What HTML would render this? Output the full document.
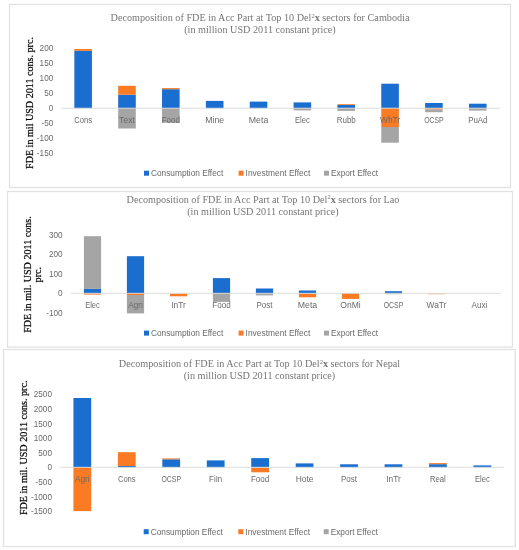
<!DOCTYPE html>
<html><head><meta charset="utf-8"><style>
html,body{margin:0;padding:0;background:#fff;width:519px;height:550px;overflow:hidden}
svg{display:block;will-change:transform}
.tt{font-family:"Liberation Serif",serif;font-size:10.2px;fill:#767676}
.yt{font-family:"Liberation Serif",serif;font-size:10.1px;fill:#000;stroke:#000;stroke-width:0.22px}
.al{font-family:"Liberation Sans",sans-serif;font-size:8.8px;fill:#6a6a6a}
.lg{font-family:"Liberation Sans",sans-serif;font-size:8.8px;fill:#6a6a6a}
</style></head><body>
<svg width="519" height="550" viewBox="0 0 519 550"><rect x="0" y="0" width="519" height="550" fill="#fff"/><rect x="9.5" y="4.5" width="501" height="183" fill="#fff" stroke="#e2e2e2" stroke-width="1.3"/><text x="260" y="21.2" text-anchor="middle" class="tt">Decomposition of FDE in Acc Part at Top 10 Del<tspan font-size="6.5" dy="-3.5">2</tspan><tspan font-weight="bold" dy="3.5">x</tspan> sectors for Cambodia</text><text x="260" y="33.2" text-anchor="middle" class="tt">(in million USD 2011 constant price)</text><text transform="translate(32.7,103) rotate(-90)" text-anchor="middle" class="yt">FDE in mil USD 2011 cons. prc.</text><text x="53.3" y="51.20" text-anchor="end" class="al" textLength="13.68" lengthAdjust="spacingAndGlyphs">200</text><text x="53.3" y="66.20" text-anchor="end" class="al" textLength="13.68" lengthAdjust="spacingAndGlyphs">150</text><text x="53.3" y="81.20" text-anchor="end" class="al" textLength="13.68" lengthAdjust="spacingAndGlyphs">100</text><text x="53.3" y="96.20" text-anchor="end" class="al" textLength="9.12" lengthAdjust="spacingAndGlyphs">50</text><text x="53.3" y="111.20" text-anchor="end" class="al" textLength="4.56" lengthAdjust="spacingAndGlyphs">0</text><text x="53.3" y="126.20" text-anchor="end" class="al" textLength="11.88" lengthAdjust="spacingAndGlyphs">-50</text><text x="53.3" y="141.20" text-anchor="end" class="al" textLength="16.44" lengthAdjust="spacingAndGlyphs">-100</text><text x="53.3" y="156.20" text-anchor="end" class="al" textLength="16.44" lengthAdjust="spacingAndGlyphs">-150</text><rect x="74.33" y="50.80" width="17.60" height="57.40" fill="#1a6ecf"/><rect x="74.33" y="49.00" width="17.60" height="1.80" fill="#fa7b23"/><rect x="118.18" y="94.70" width="17.60" height="13.50" fill="#1a6ecf"/><rect x="118.18" y="85.80" width="17.60" height="8.90" fill="#fa7b23"/><rect x="118.18" y="108.20" width="17.60" height="20.30" fill="#a5a5a5"/><rect x="162.03" y="89.20" width="17.60" height="19.00" fill="#1a6ecf"/><rect x="162.03" y="88.10" width="17.60" height="1.10" fill="#fa7b23"/><rect x="162.03" y="108.20" width="17.60" height="14.60" fill="#a5a5a5"/><rect x="205.88" y="100.90" width="17.60" height="7.30" fill="#1a6ecf"/><rect x="249.73" y="101.60" width="17.60" height="6.60" fill="#1a6ecf"/><rect x="293.57" y="102.40" width="17.60" height="5.80" fill="#1a6ecf"/><rect x="293.57" y="108.20" width="17.60" height="2.20" fill="#a5a5a5"/><rect x="337.43" y="105.00" width="17.60" height="3.20" fill="#1a6ecf"/><rect x="337.43" y="104.20" width="17.60" height="0.80" fill="#fa7b23"/><rect x="337.43" y="108.20" width="17.60" height="2.70" fill="#a5a5a5"/><rect x="381.27" y="83.70" width="17.60" height="24.50" fill="#1a6ecf"/><rect x="381.27" y="108.20" width="17.60" height="18.80" fill="#fa7b23"/><rect x="381.27" y="127.00" width="17.60" height="15.70" fill="#a5a5a5"/><rect x="425.12" y="103.00" width="17.60" height="5.20" fill="#1a6ecf"/><rect x="425.12" y="108.20" width="17.60" height="1.20" fill="#fa7b23"/><rect x="425.12" y="109.40" width="17.60" height="2.80" fill="#a5a5a5"/><rect x="468.98" y="103.70" width="17.60" height="4.50" fill="#1a6ecf"/><rect x="468.98" y="108.20" width="17.60" height="2.40" fill="#a5a5a5"/><line x1="61.2" y1="108.2" x2="500.2" y2="108.2" stroke="#d9d9d9" stroke-width="0.9"/><text x="83.12" y="123.0" text-anchor="middle" class="al" textLength="17.79" lengthAdjust="spacingAndGlyphs">Cons</text><text x="126.98" y="123.0" text-anchor="middle" class="al" textLength="15.78" lengthAdjust="spacingAndGlyphs">Text</text><text x="170.83" y="123.0" text-anchor="middle" class="al" textLength="18.36" lengthAdjust="spacingAndGlyphs">Food</text><text x="214.68" y="123.0" text-anchor="middle" class="al" textLength="18.97" lengthAdjust="spacingAndGlyphs">Mine</text><text x="258.53" y="123.0" text-anchor="middle" class="al" textLength="19.50" lengthAdjust="spacingAndGlyphs">Meta</text><text x="302.38" y="123.0" text-anchor="middle" class="al" textLength="14.74" lengthAdjust="spacingAndGlyphs">Elec</text><text x="346.23" y="123.0" text-anchor="middle" class="al" textLength="19.07" lengthAdjust="spacingAndGlyphs">Rubb</text><text x="390.07" y="123.0" text-anchor="middle" class="al" textLength="20.26" lengthAdjust="spacingAndGlyphs">WhTr</text><text x="433.93" y="123.0" text-anchor="middle" class="al" textLength="19.54" lengthAdjust="spacingAndGlyphs">OCSP</text><text x="477.78" y="123.0" text-anchor="middle" class="al" textLength="19.31" lengthAdjust="spacingAndGlyphs">PuAd</text><rect x="144" y="170.7" width="5" height="5" fill="#1a6ecf"/><text x="151" y="176.1" class="lg" textLength="72.22" lengthAdjust="spacingAndGlyphs">Consumption Effect</text><rect x="238.6" y="170.7" width="5" height="5" fill="#fa7b23"/><text x="245.6" y="176.1" class="lg" textLength="64.71" lengthAdjust="spacingAndGlyphs">Investment Effect</text><rect x="324" y="170.7" width="5" height="5" fill="#a5a5a5"/><text x="331" y="176.1" class="lg" textLength="47.14" lengthAdjust="spacingAndGlyphs">Export Effect</text><rect x="7.5" y="191.5" width="505" height="155.60000000000002" fill="#fff" stroke="#e2e2e2" stroke-width="1.3"/><text x="263" y="202.5" text-anchor="middle" class="tt">Decomposition of FDE in Acc Part at Top 10 Del<tspan font-size="6.5" dy="-3.5">2</tspan><tspan font-weight="bold" dy="3.5">x</tspan> sectors for Lao</text><text x="263" y="214.5" text-anchor="middle" class="tt">(in million USD 2011 constant price)</text><text transform="translate(30.6,274.5) rotate(-90)" text-anchor="middle" class="yt">FDE in mil. USD 2011 cons.</text><text transform="translate(41.4,274.7) rotate(-90)" text-anchor="middle" class="yt">prc.</text><text x="62.6" y="237.80" text-anchor="end" class="al" textLength="13.68" lengthAdjust="spacingAndGlyphs">300</text><text x="62.6" y="257.30" text-anchor="end" class="al" textLength="13.68" lengthAdjust="spacingAndGlyphs">200</text><text x="62.6" y="276.80" text-anchor="end" class="al" textLength="13.68" lengthAdjust="spacingAndGlyphs">100</text><text x="62.6" y="296.30" text-anchor="end" class="al" textLength="4.56" lengthAdjust="spacingAndGlyphs">0</text><text x="62.6" y="315.80" text-anchor="end" class="al" textLength="16.44" lengthAdjust="spacingAndGlyphs">-100</text><rect x="83.90" y="288.90" width="17.20" height="4.40" fill="#1a6ecf"/><rect x="83.90" y="236.20" width="17.20" height="52.70" fill="#a5a5a5"/><rect x="83.90" y="293.30" width="17.20" height="1.30" fill="#fa7b23"/><rect x="126.90" y="256.20" width="17.20" height="37.10" fill="#1a6ecf"/><rect x="126.90" y="293.30" width="17.20" height="1.70" fill="#fa7b23"/><rect x="126.90" y="295.00" width="17.20" height="18.40" fill="#a5a5a5"/><rect x="169.90" y="293.60" width="17.20" height="2.70" fill="#fa7b23"/><rect x="212.90" y="278.10" width="17.20" height="15.20" fill="#1a6ecf"/><rect x="212.90" y="293.30" width="17.20" height="8.60" fill="#a5a5a5"/><rect x="255.90" y="288.50" width="17.20" height="4.80" fill="#1a6ecf"/><rect x="255.90" y="293.30" width="17.20" height="2.10" fill="#a5a5a5"/><rect x="298.90" y="290.50" width="17.20" height="2.80" fill="#1a6ecf"/><rect x="298.90" y="293.60" width="17.20" height="3.70" fill="#fa7b23"/><rect x="341.90" y="293.30" width="17.20" height="5.60" fill="#fa7b23"/><rect x="384.90" y="291.20" width="17.20" height="2.10" fill="#1a6ecf"/><rect x="384.90" y="293.30" width="17.20" height="0.90" fill="#a5a5a5"/><rect x="427.90" y="293.30" width="17.20" height="1.20" fill="#f6c9a8"/><line x1="71" y1="293.3" x2="501" y2="293.3" stroke="#d9d9d9" stroke-width="0.9"/><text x="92.50" y="308.1" text-anchor="middle" class="al" textLength="14.74" lengthAdjust="spacingAndGlyphs">Elec</text><text x="135.50" y="308.1" text-anchor="middle" class="al" textLength="14.65" lengthAdjust="spacingAndGlyphs">Agri</text><text x="178.50" y="308.1" text-anchor="middle" class="al" textLength="14.52" lengthAdjust="spacingAndGlyphs">InTr</text><text x="221.50" y="308.1" text-anchor="middle" class="al" textLength="18.36" lengthAdjust="spacingAndGlyphs">Food</text><text x="264.50" y="308.1" text-anchor="middle" class="al" textLength="15.93" lengthAdjust="spacingAndGlyphs">Post</text><text x="307.50" y="308.1" text-anchor="middle" class="al" textLength="19.50" lengthAdjust="spacingAndGlyphs">Meta</text><text x="350.50" y="308.1" text-anchor="middle" class="al" textLength="20.45" lengthAdjust="spacingAndGlyphs">OnMi</text><text x="393.50" y="308.1" text-anchor="middle" class="al" textLength="19.54" lengthAdjust="spacingAndGlyphs">OCSP</text><text x="436.50" y="308.1" text-anchor="middle" class="al" textLength="19.85" lengthAdjust="spacingAndGlyphs">WaTr</text><text x="479.50" y="308.1" text-anchor="middle" class="al" textLength="15.90" lengthAdjust="spacingAndGlyphs">Auxi</text><rect x="144" y="330.6" width="5" height="5" fill="#1a6ecf"/><text x="151" y="336.0" class="lg" textLength="72.22" lengthAdjust="spacingAndGlyphs">Consumption Effect</text><rect x="238.6" y="330.6" width="5" height="5" fill="#fa7b23"/><text x="245.6" y="336.0" class="lg" textLength="64.71" lengthAdjust="spacingAndGlyphs">Investment Effect</text><rect x="324" y="330.6" width="5" height="5" fill="#a5a5a5"/><text x="331" y="336.0" class="lg" textLength="47.14" lengthAdjust="spacingAndGlyphs">Export Effect</text><rect x="3.5" y="349.5" width="511.79999999999995" height="197" fill="#fff" stroke="#e2e2e2" stroke-width="1.3"/><text x="259.5" y="367" text-anchor="middle" class="tt">Decomposition of FDE in Acc Part at Top 10 Del<tspan font-size="6.5" dy="-3.5">2</tspan><tspan font-weight="bold" dy="3.5">x</tspan> sectors for Nepal</text><text x="259.5" y="378.5" text-anchor="middle" class="tt">(in million USD 2011 constant price)</text><text transform="translate(27.3,447.8) rotate(-90)" text-anchor="middle" class="yt">FDE in mil. USD 2011 cons. prc.</text><text x="52" y="397.30" text-anchor="end" class="al" textLength="18.25" lengthAdjust="spacingAndGlyphs">2500</text><text x="52" y="411.90" text-anchor="end" class="al" textLength="18.25" lengthAdjust="spacingAndGlyphs">2000</text><text x="52" y="426.50" text-anchor="end" class="al" textLength="18.25" lengthAdjust="spacingAndGlyphs">1500</text><text x="52" y="441.10" text-anchor="end" class="al" textLength="18.25" lengthAdjust="spacingAndGlyphs">1000</text><text x="52" y="455.70" text-anchor="end" class="al" textLength="13.68" lengthAdjust="spacingAndGlyphs">500</text><text x="52" y="470.30" text-anchor="end" class="al" textLength="4.56" lengthAdjust="spacingAndGlyphs">0</text><text x="52" y="484.90" text-anchor="end" class="al" textLength="16.44" lengthAdjust="spacingAndGlyphs">-500</text><text x="52" y="499.50" text-anchor="end" class="al" textLength="21.00" lengthAdjust="spacingAndGlyphs">-1000</text><text x="52" y="514.10" text-anchor="end" class="al" textLength="21.00" lengthAdjust="spacingAndGlyphs">-1500</text><rect x="73.42" y="398.00" width="17.80" height="69.30" fill="#1a6ecf"/><rect x="73.42" y="467.30" width="17.80" height="43.80" fill="#fa7b23"/><rect x="117.88" y="466.00" width="17.80" height="1.30" fill="#1a6ecf"/><rect x="117.88" y="452.20" width="17.80" height="13.80" fill="#fa7b23"/><rect x="162.32" y="459.30" width="17.80" height="8.00" fill="#1a6ecf"/><rect x="162.32" y="458.40" width="17.80" height="0.90" fill="#fa7b23"/><rect x="206.78" y="460.40" width="17.80" height="6.90" fill="#1a6ecf"/><rect x="251.22" y="458.10" width="17.80" height="9.20" fill="#1a6ecf"/><rect x="251.22" y="467.80" width="17.80" height="4.50" fill="#fa7b23"/><rect x="295.68" y="463.40" width="17.80" height="3.90" fill="#1a6ecf"/><rect x="340.13" y="464.30" width="17.80" height="3.00" fill="#1a6ecf"/><rect x="384.58" y="464.30" width="17.80" height="3.00" fill="#1a6ecf"/><rect x="429.03" y="464.20" width="17.80" height="3.10" fill="#1a6ecf"/><rect x="429.03" y="463.10" width="17.80" height="1.10" fill="#fa7b23"/><rect x="473.48" y="465.40" width="17.80" height="1.90" fill="#1a6ecf"/><line x1="60.1" y1="467.3" x2="504.4" y2="467.3" stroke="#d9d9d9" stroke-width="0.9"/><text x="82.33" y="482" text-anchor="middle" class="al" textLength="14.65" lengthAdjust="spacingAndGlyphs">Agri</text><text x="126.78" y="482" text-anchor="middle" class="al" textLength="17.79" lengthAdjust="spacingAndGlyphs">Cons</text><text x="171.22" y="482" text-anchor="middle" class="al" textLength="19.54" lengthAdjust="spacingAndGlyphs">OCSP</text><text x="215.68" y="482" text-anchor="middle" class="al" textLength="13.20" lengthAdjust="spacingAndGlyphs">FiIn</text><text x="260.12" y="482" text-anchor="middle" class="al" textLength="18.36" lengthAdjust="spacingAndGlyphs">Food</text><text x="304.58" y="482" text-anchor="middle" class="al" textLength="17.85" lengthAdjust="spacingAndGlyphs">Hote</text><text x="349.03" y="482" text-anchor="middle" class="al" textLength="15.93" lengthAdjust="spacingAndGlyphs">Post</text><text x="393.48" y="482" text-anchor="middle" class="al" textLength="14.52" lengthAdjust="spacingAndGlyphs">InTr</text><text x="437.93" y="482" text-anchor="middle" class="al" textLength="15.74" lengthAdjust="spacingAndGlyphs">Real</text><text x="482.38" y="482" text-anchor="middle" class="al" textLength="14.74" lengthAdjust="spacingAndGlyphs">Elec</text><rect x="143.7" y="529.2" width="5" height="5" fill="#1a6ecf"/><text x="150.7" y="534.6" class="lg" textLength="72.22" lengthAdjust="spacingAndGlyphs">Consumption Effect</text><rect x="238.3" y="529.2" width="5" height="5" fill="#fa7b23"/><text x="245.3" y="534.6" class="lg" textLength="64.71" lengthAdjust="spacingAndGlyphs">Investment Effect</text><rect x="323.7" y="529.2" width="5" height="5" fill="#a5a5a5"/><text x="330.7" y="534.6" class="lg" textLength="47.14" lengthAdjust="spacingAndGlyphs">Export Effect</text></svg>
</body></html>
